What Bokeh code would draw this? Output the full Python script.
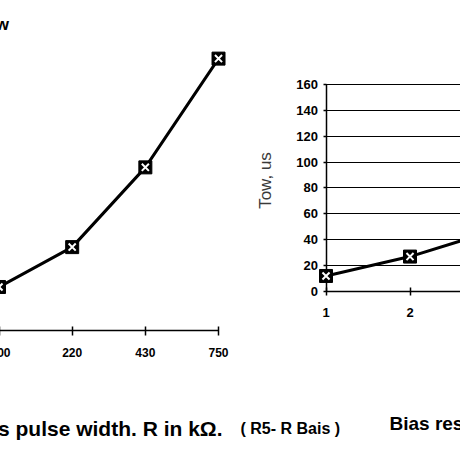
import math
from bokeh.plotting import figure
from bokeh.models import Range1d, FixedTicker, Label, BoxAnnotation, LinearAxis
from bokeh.embed import file_html
from bokeh.resources import INLINE

# ---- data ----
left_r_labels = ["100", "220", "430", "750"]      # R in kOhm (first label cut off)
left_tow = [120, 230, 450, 750]                   # pulse width, us
right_x = [1, 2, 3]                               # bias resistor index
right_x_labels = ["1", "2", "3"]
right_tow = [12, 27, 47]                          # Tow, us
right_yticks = [0, 20, 40, 60, 80, 100, 120, 140, 160]

FONT = "Liberation Sans"
SHIFT = 10                     # canvas starts 10px left of the page edge
W, H = 460 + SHIFT, 449

p = figure(width=W, height=H,
           x_range=Range1d(-2.994, 2.601), y_range=Range1d(-122.13, 224.93),
           x_axis_location=None, y_axis_location=None,
           output_backend="svg", toolbar_location=None,
           min_border=0, min_border_left=0, min_border_right=0,
           min_border_top=0, min_border_bottom=0)
p.styles = {"margin-left": f"-{SHIFT}px"}
p.outline_line_color = None
p.background_fill_color = "white"
p.border_fill_color = "white"
p.extra_x_ranges = {"L": Range1d(-0.1162, 6.307)}
p.extra_y_ranges = {"L": Range1d(-328.3, 910.3)}


def style_axis(ax, size, tin, tout, standoff):
    ax.axis_line_color = "black"
    ax.axis_line_width = 1.5
    ax.major_tick_line_color = "black"
    ax.major_tick_line_width = 1.5
    ax.major_tick_in = tin
    ax.major_tick_out = tout
    ax.minor_tick_line_color = None
    ax.major_label_standoff = standoff
    ax.major_label_text_font = FONT
    ax.major_label_text_font_style = "bold"
    ax.major_label_text_font_size = size
    ax.major_label_text_color = "black"


def series(xs, ys, **rk):
    p.line(xs, ys, line_color="black", line_width=3, **rk)
    r1 = p.scatter(xs, ys, marker="square", size=13, fill_color="black",
                   line_color="black", **rk)
    r2 = p.scatter(xs, ys, marker="x", size=10, line_color="white", line_width=2, **rk)
    r1.level = "overlay"
    r2.level = "overlay"


# ---- right chart grid ----
p.xgrid.visible = False
p.ygrid.ticker = FixedTicker(ticks=right_yticks)
p.ygrid.grid_line_color = "black"
p.ygrid.grid_line_width = 1
p.add_layout(BoxAnnotation(left=-20, right=1, fill_color="white", fill_alpha=1,
                           line_color=None, level="underlay"))

# ---- left chart axis ----
xl = LinearAxis(x_range_name="L", y_range_name="L", fixed_location=0,
                bounds=(0, len(left_r_labels) - 1))
xl.ticker = FixedTicker(ticks=list(range(len(left_r_labels))))
xl.major_label_overrides = {i: s for i, s in enumerate(left_r_labels)}
style_axis(xl, "12px", 4, 5, 13)
p.add_layout(xl, "below")
series(list(range(len(left_tow))), left_tow, x_range_name="L", y_range_name="L")

# ---- right chart axes ----
yr = LinearAxis(fixed_location=1, bounds=(0, 160))
yr.ticker = FixedTicker(ticks=right_yticks)
style_axis(yr, "13px", 0, 3, 5)
p.add_layout(yr, "left")

xr = LinearAxis(fixed_location=0, bounds=(1, 10))
xr.ticker = FixedTicker(ticks=right_x)
xr.major_label_overrides = {x: s for x, s in zip(right_x, right_x_labels)}
style_axis(xr, "13px", 4, 4, 13)
p.add_layout(xr, "below")
series(right_x, right_tow)

# ---- texts ----
def label(x, y, text, size, style="bold", align="left", baseline="middle",
          color="black", angle=0.0):
    p.add_layout(Label(x=x + SHIFT, y=H - y, x_units="screen", y_units="screen",
                       text=text, text_align=align, text_baseline=baseline, angle=angle,
                       text_font=FONT, text_font_style=style, text_font_size=size,
                       text_color=color))

label(8.5, 24, "Tow", "17px", align="right", baseline="alphabetic")
label(265, 180, "Tow, us", "17px", style="normal", align="center",
      baseline="alphabetic", color="#3a3a3a", angle=math.pi / 2)
label(222, 428, "Tow vs pulse width. R in kΩ.", "21px", align="right")
label(240, 428, "( R5- R Bais )", "16px")
label(389, 423, "Bias resistor vs Tow", "19px")

open("out.html", "w").write(file_html(p, INLINE))
